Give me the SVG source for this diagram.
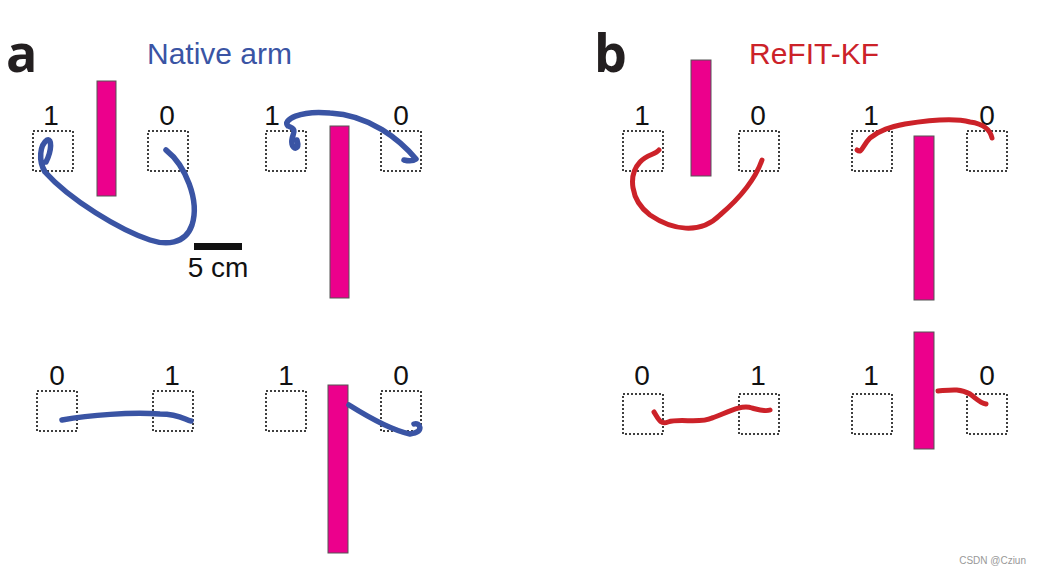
<svg xmlns="http://www.w3.org/2000/svg" width="1042" height="574" viewBox="0 0 1042 574">
<style>
.box{fill:none;stroke:#000;stroke-width:1.5;stroke-dasharray:2,2}
.bar{fill:#ec008c;stroke:#555;stroke-width:1}
.d{font-family:"Liberation Sans",Arial,sans-serif;font-size:28px;fill:#111;text-anchor:middle}
.nat{fill:none;stroke:#3a54a4;stroke-width:5.5;stroke-linecap:round;stroke-linejoin:round}
.ref{fill:none;stroke:#cc2229;stroke-width:5;stroke-linecap:round;stroke-linejoin:round}
.big{font-family:"Open Sans","Liberation Sans",sans-serif;font-weight:bold;font-size:52px;fill:#231f20}
.t{font-family:"Liberation Sans",Arial,sans-serif;font-size:30px}
</style>
<rect width="1042" height="574" fill="#fff"/>
<text class="big" x="6" y="72">a</text>
<text class="big" x="594" y="72">b</text>
<text class="t" x="147" y="64" fill="#3a54a4">Native arm</text>
<text class="t" x="749" y="64" fill="#cc2229">ReFIT-KF</text>
<g id="a1">
<rect class="box" x="33" y="131" width="40" height="40"/><rect class="box" x="148" y="131" width="40" height="40"/>
<rect class="bar" x="97" y="81" width="19" height="115"/>
<text class="d" x="51" y="125">1</text><text class="d" x="167" y="125">0</text>
<rect x="194" y="243" width="48" height="7" fill="#111"/>
<text class="d" x="218" y="277">5 cm</text>
</g>
<g id="a2">
<rect class="box" x="266" y="131" width="40" height="40"/><rect class="box" x="381" y="131" width="40" height="40"/>
<rect class="bar" x="330" y="126" width="19" height="172"/>
<text class="d" x="272" y="125">1</text><text class="d" x="401" y="125">0</text>
</g>
<g id="a3">
<rect class="box" x="37" y="391" width="40" height="40"/><rect class="box" x="153" y="391" width="40" height="40"/>
<text class="d" x="57" y="385">0</text><text class="d" x="172" y="385">1</text>
</g>
<g id="a4">
<rect class="box" x="266" y="391" width="40" height="40"/><rect class="box" x="381" y="391" width="40" height="40"/>
<rect class="bar" x="328" y="385" width="20" height="168"/>
<text class="d" x="286" y="385">1</text><text class="d" x="401" y="385">0</text>
</g>
<g id="b1">
<rect class="box" x="623" y="131" width="40" height="40"/><rect class="box" x="739" y="131" width="40" height="40"/>
<rect class="bar" x="691" y="60" width="20" height="116"/>
<text class="d" x="642" y="125">1</text><text class="d" x="758" y="125">0</text>
</g>
<g id="b2">
<rect class="box" x="852" y="131" width="40" height="40"/><rect class="box" x="967" y="131" width="40" height="40"/>
<rect class="bar" x="914" y="136" width="20" height="164"/>
<text class="d" x="871" y="125">1</text><text class="d" x="987" y="125">0</text>
</g>
<g id="b3">
<rect class="box" x="623" y="394" width="40" height="40"/><rect class="box" x="739" y="394" width="40" height="40"/>
<text class="d" x="642" y="385">0</text><text class="d" x="758" y="385">1</text>
</g>
<g id="b4">
<rect class="box" x="852" y="394" width="40" height="40"/><rect class="box" x="967" y="394" width="40" height="40"/>
<rect class="bar" x="914" y="332" width="20" height="117"/>
<text class="d" x="871" y="385">1</text><text class="d" x="987" y="385">0</text>
</g>
<g id="connectors">
<path class="nat" d="M166,150 C185,165 200,200 192,225 C185,245 165,245 150,240 C120,230 70,200 45,172 C38,160 40,145 47,140 C52,138 52,150 46,162"/>
<path class="nat" d="M297,140 C300,150 293,150 292,144 C290,135 300,130 288,126 C282,120 300,110 330,113 C370,115 400,140 416,159 C412,162 404,160 404,160"/>
<path class="nat" d="M62,420 C90,415 130,412 160,414 C180,414 185,420 191,421"/>
<path class="nat" d="M349,405 C365,415 390,430 410,434 C425,432 420,422 414,424"/>
<path class="ref" d="M659,150 C655,155 647,154 640,162 C628,175 630,200 650,215 C672,230 700,235 720,215 C740,198 755,180 762,160"/>
<path class="ref" d="M857,150 C862,154 862,146 870,138 C880,130 890,127 905,124 C930,120 955,118 970,122 C985,124 990,130 992,138"/>
<path class="ref" d="M654,412 C658,418 660,425 668,422 C680,418 700,424 712,418 C725,414 740,404 752,408 C760,410 765,412 770,410"/>
<path class="ref" d="M938,391 C950,390 960,388 970,394 C978,400 980,403 986,404"/>
</g>
<text x="1026" y="564" text-anchor="end" font-family="Liberation Sans,Arial,sans-serif" font-size="10" fill="#999">CSDN @Cziun</text>
</svg>
